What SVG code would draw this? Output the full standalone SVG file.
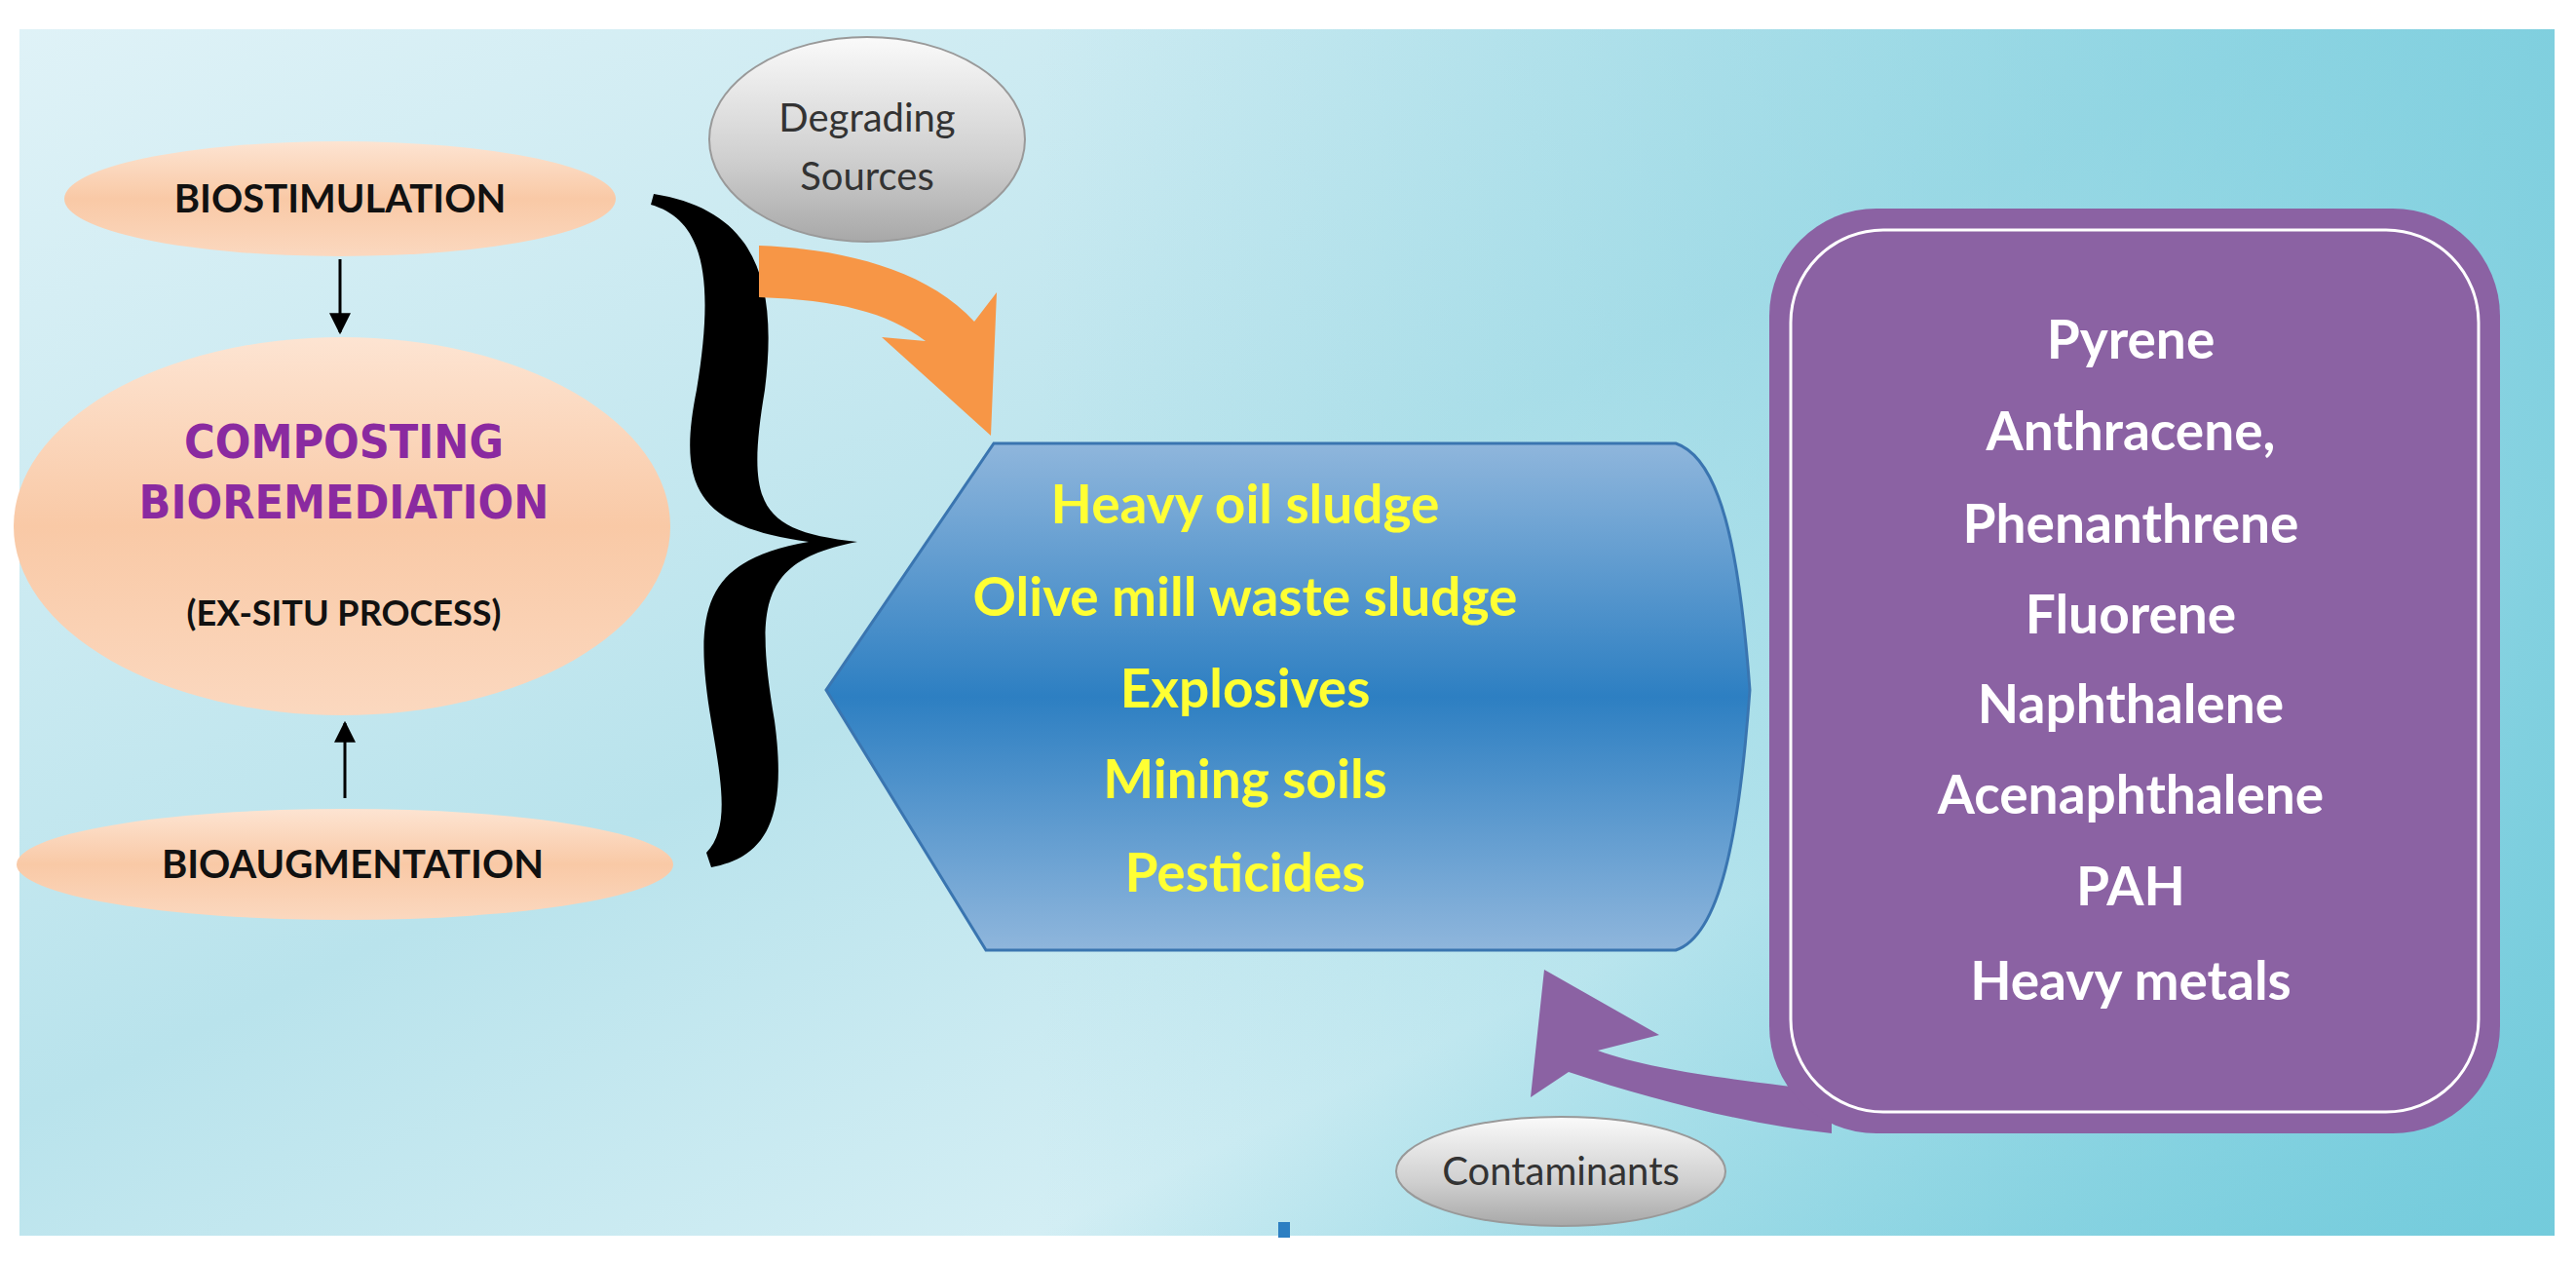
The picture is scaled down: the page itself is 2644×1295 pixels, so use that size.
<svg xmlns="http://www.w3.org/2000/svg" width="2644" height="1295" viewBox="0 0 2644 1295">
<defs>
<linearGradient id="bg" x1="0" y1="0" x2="1" y2="1">
<stop offset="0" stop-color="#dff2f7"/><stop offset="0.45" stop-color="#b9e3ec"/><stop offset="0.7" stop-color="#d3eef4"/><stop offset="1" stop-color="#7fd0df"/>
</linearGradient>
<linearGradient id="bg2" x1="0" y1="0" x2="1" y2="0">
<stop offset="0.4" stop-color="#7fd0df" stop-opacity="0"/><stop offset="1" stop-color="#70cadb" stop-opacity="0.8"/>
</linearGradient>
<linearGradient id="peach" x1="0" y1="0" x2="0" y2="1">
<stop offset="0" stop-color="#fde4d2"/><stop offset="0.5" stop-color="#f9c9a6"/><stop offset="1" stop-color="#fbd8bf"/>
</linearGradient>
<linearGradient id="gray" x1="0" y1="0" x2="0" y2="1">
<stop offset="0" stop-color="#fafafa"/><stop offset="0.6" stop-color="#cfcfcf"/><stop offset="1" stop-color="#a8a8a8"/>
</linearGradient>
<linearGradient id="blue" x1="0" y1="0" x2="0" y2="1">
<stop offset="0" stop-color="#8fb6dc"/><stop offset="0.5" stop-color="#2d7fc2"/><stop offset="1" stop-color="#8fb6dc"/>
</linearGradient>
<marker id="ah" viewBox="0 0 10 10" refX="9" refY="5" markerWidth="22" markerHeight="22" markerUnits="userSpaceOnUse" orient="auto"><path d="M0,0 L10,5 L0,10 z" fill="#000"/></marker>
<style>
.lbl{font-family:Lato,"Open Sans","Liberation Sans",sans-serif;font-weight:bold;text-anchor:middle}
.blk{fill:#111;font-size:40px}
.yel{fill:#ffff33;font-size:55px}
.wht{fill:#fff;font-size:55px}
.gry{font-family:Lato,"Open Sans","Liberation Sans",sans-serif;fill:#333;font-size:40px;text-anchor:middle}
.cond{font-family:"DejaVu Sans Condensed","DejaVu Sans",sans-serif;font-stretch:condensed;font-weight:bold;fill:#8a2aa0;font-size:48px;text-anchor:middle}
</style>
</defs>
<rect x="20" y="30" width="2602" height="1238" fill="url(#bg)"/>
<rect x="20" y="30" width="2602" height="1238" fill="url(#bg2)"/>
<rect x="1312" y="1254" width="12" height="16" fill="#2d7fc2"/>

<g id="connectors">
<line x1="349" y1="266" x2="349" y2="341" stroke="#000" stroke-width="3" marker-end="url(#ah)"/>
<line x1="354" y1="819" x2="354" y2="742" stroke="#000" stroke-width="3" marker-end="url(#ah)"/>
<path d="M671,199 C770,215 800,280 785,400 C765,520 780,545 880,556 C780,575 775,620 795,740 C810,850 780,880 730,890 L725,875 C750,850 740,800 730,740 C710,620 725,575 830,556 C715,540 695,500 715,400 C735,280 720,225 668,210 Z" fill="#000"/>
<path d="M779,252 C860,255 950,275 1000,330 L1023,300 L1017,447 L905,346 L950,350 C910,320 860,308 779,305 Z" fill="#f79646"/>
<path d="M1880,1120 C1800,1110 1700,1100 1640,1078 L1703,1062 L1585,995 L1571,1126 L1610,1100 C1700,1130 1800,1155 1880,1163 Z" fill="#8b62a3"/>
</g>

<g id="biostimulation"><ellipse cx="349" cy="204" rx="283" ry="59" fill="url(#peach)"/><text class="lbl blk" x="349" y="218">BIOSTIMULATION</text></g>
<g id="composting"><ellipse cx="351" cy="540" rx="337" ry="194" fill="url(#peach)"/>
<text class="cond" x="353" y="470">COMPOSTING</text><text class="cond" x="353" y="532">BIOREMEDIATION</text>
<text class="lbl blk" x="353" y="642" style="font-size:36px">(EX-SITU PROCESS)</text></g>
<g id="bioaugmentation"><ellipse cx="354" cy="887" rx="337" ry="57" fill="url(#peach)"/><text class="lbl blk" x="362" y="901">BIOAUGMENTATION</text></g>
<g id="degrading"><ellipse cx="890" cy="143" rx="162" ry="105" fill="url(#gray)" stroke="#999" stroke-width="2"/>
<text class="gry" x="890" y="135">Degrading</text><text class="gry" x="890" y="195">Sources</text></g>
<g id="contaminants"><ellipse cx="1602" cy="1202" rx="169" ry="56" fill="url(#gray)" stroke="#999" stroke-width="2"/><text class="gry" x="1602" y="1216">Contaminants</text></g>

<g id="wastes">
<path d="M1020,455 L1720,455 C1765,470 1785,560 1796,708 C1785,860 1765,960 1720,975 L1012,975 L848,708 Z" fill="url(#blue)" stroke="#3a75b0" stroke-width="3"/>
<text class="lbl yel" x="1278" y="537">Heavy oil sludge</text>
<text class="lbl yel" x="1278" y="632">Olive mill waste sludge</text>
<text class="lbl yel" x="1278" y="726">Explosives</text>
<text class="lbl yel" x="1278" y="819">Mining soils</text>
<text class="lbl yel" x="1278" y="915">Pesticides</text>
</g>

<g id="pollutants">
<rect x="1816" y="214" width="750" height="949" rx="110" fill="#8b62a3"/>
<rect x="1838" y="236" width="706" height="905" rx="95" fill="none" stroke="#fff" stroke-width="3"/>
<text class="lbl wht" x="2187" y="368">Pyrene</text>
<text class="lbl wht" x="2187" y="462">Anthracene,</text>
<text class="lbl wht" x="2187" y="557">Phenanthrene</text>
<text class="lbl wht" x="2187" y="650">Fluorene</text>
<text class="lbl wht" x="2187" y="742">Naphthalene</text>
<text class="lbl wht" x="2187" y="835">Acenaphthalene</text>
<text class="lbl wht" x="2187" y="929">PAH</text>
<text class="lbl wht" x="2187" y="1026">Heavy metals</text>
</g>
</svg>
